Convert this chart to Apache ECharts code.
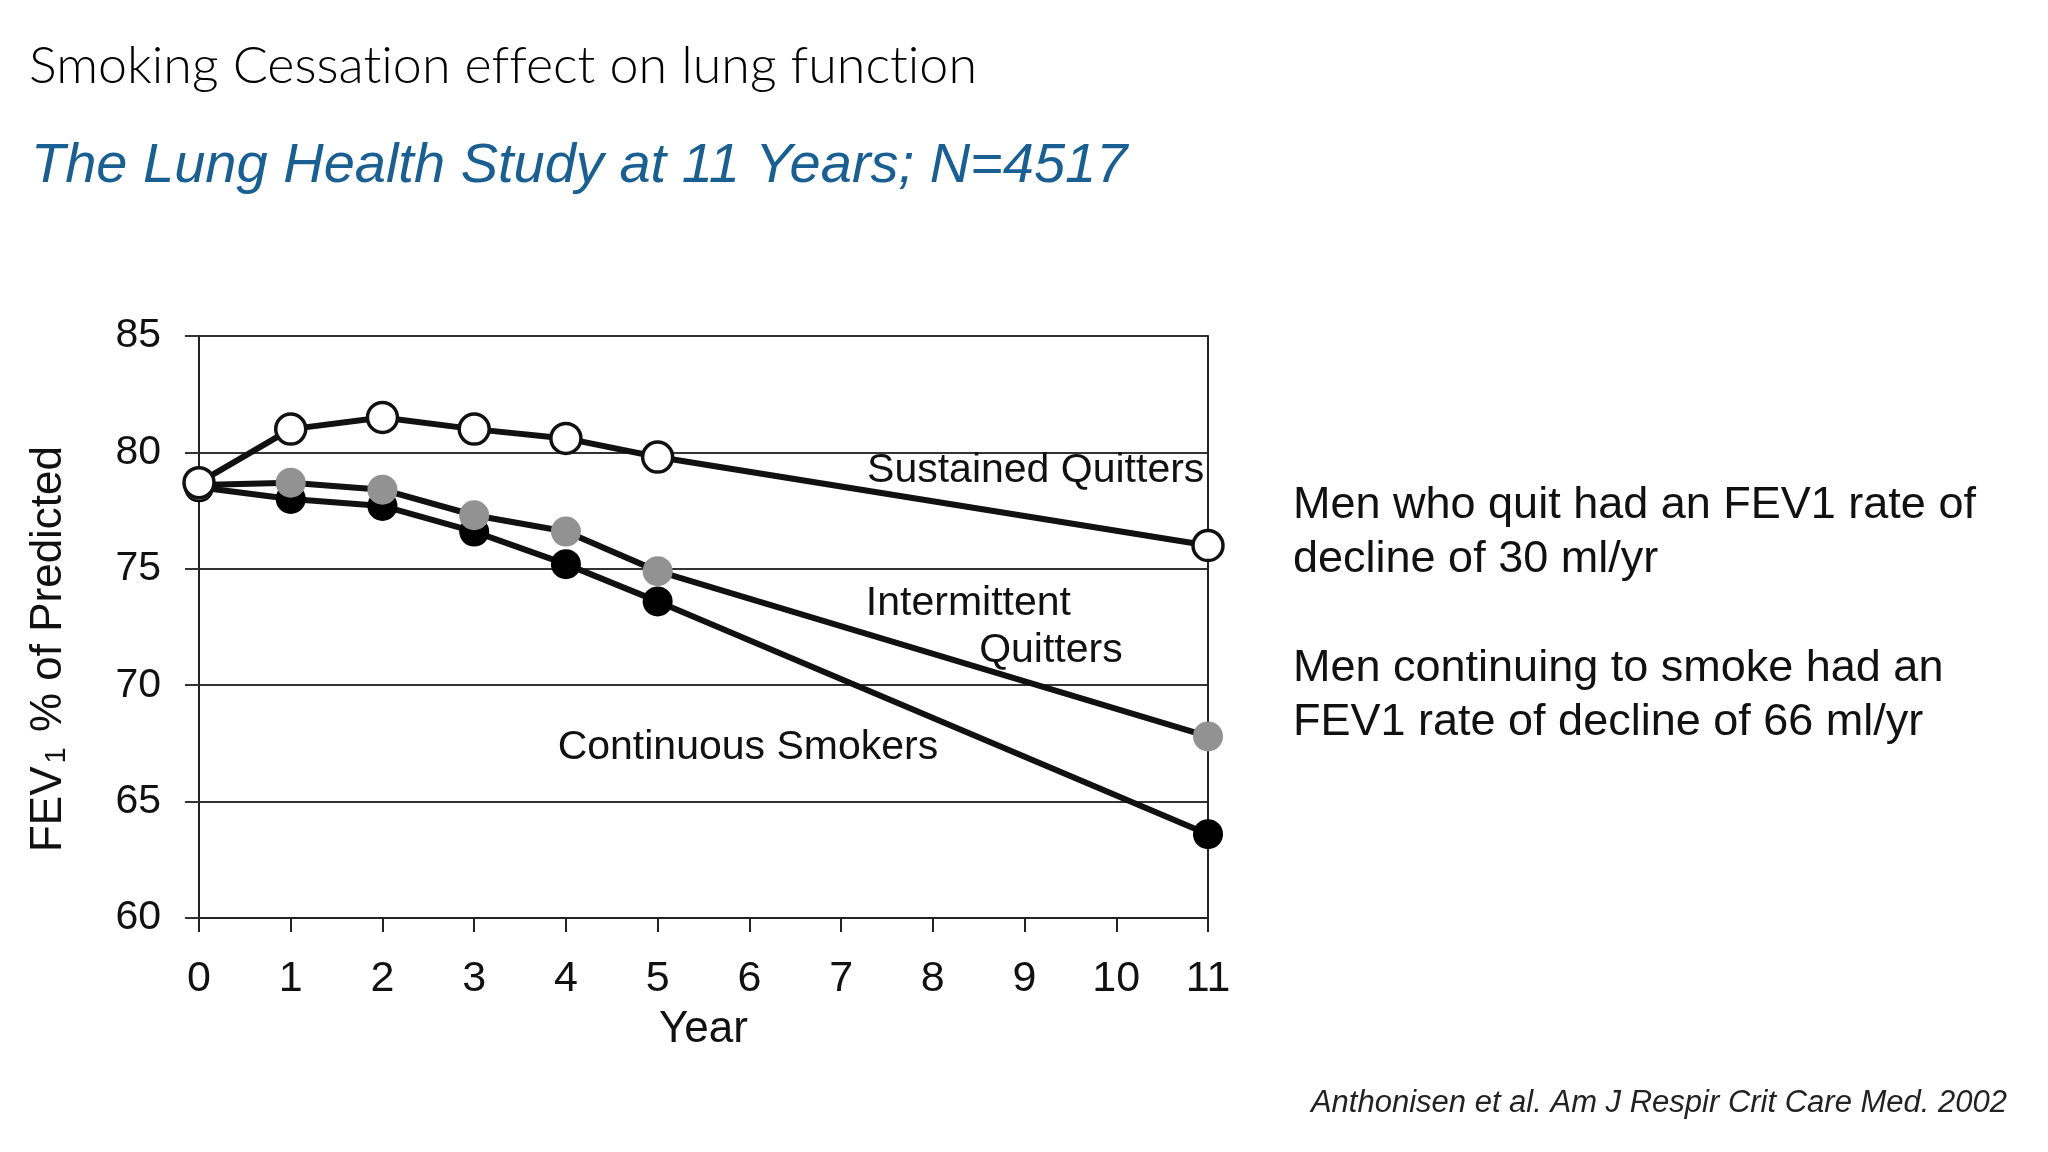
<!DOCTYPE html>
<html>
<head>
<meta charset="utf-8">
<script src="https://cdn.jsdelivr.net/npm/echarts@6/dist/echarts.min.js"></script>
<style>
  html, body { margin: 0; padding: 0; background: #fff; }
  #chart { width: 2048px; height: 1152px; }
</style>
</head>
<body>
<div id="chart"></div>
<script>
// years of follow-up
const years = [0, 1, 2, 3, 4, 5, 11]
// FEV1 % of predicted
const sustained = [78.7, 81.0, 81.5, 81.0, 80.6, 79.8, 76.0]
const intermittent = [78.6, 78.7, 78.4, 77.3, 76.6, 74.9, 67.8]
const continuous = [78.5, 78.0, 77.7, 76.6, 75.2, 73.6, 63.6]
const yTicks = [60, 65, 70, 75, 80, 85]

const pairs = vals => years.map((y, i) => [y, vals[i]])

const font = '"Liberation Sans", Arial, sans-serif'
const ink = '#111'

function lineSeries(name, vals, fill, notes) {
  return {
    name: name,
    type: 'line',
    data: pairs(vals),
    symbol: 'circle',
    symbolSize: 30,
    showAllSymbol: true,
    lineStyle: { width: 6, color: ink },
    itemStyle: { color: fill, borderColor: ink, borderWidth: fill === '#fff' ? 3.5 : 0 },
    animation: false,
    markPoint: {
      symbol: 'circle',
      symbolSize: 0,
      animation: false,
      data: notes.map(n => ({
        coord: n.at,
        label: {
          show: true,
          position: 'inside',
          formatter: n.text,
          align: n.align,
          verticalAlign: 'middle',
          fontSize: 41,
          fontFamily: font,
          color: ink
        }
      }))
    }
  }
}

// title drawn in separate runs so the font does not draw ligatures (ti, ff)
const titleRuns = ['Smoking Cessat', 'ion ef', 'fect on lung funct', 'ion']

const chart = echarts.init(document.getElementById('chart'))

chart.setOption({
  backgroundColor: '#fff',
  grid: { left: 199, right: 840, top: 336, bottom: 234 },
  xAxis: {
    type: 'value',
    min: 0,
    max: 11,
    interval: 1,
    name: 'Year',
    nameLocation: 'middle',
    nameGap: 90,
    nameTextStyle: { fontSize: 44, fontFamily: font, color: ink },
    axisLine: { lineStyle: { color: '#222', width: 2 } },
    axisTick: { show: true, length: 14, lineStyle: { color: '#222', width: 2 } },
    axisLabel: { fontSize: 43, fontFamily: font, color: ink, margin: 40 },
    splitLine: { show: false }
  },
  yAxis: [
    {
      type: 'value',
      min: yTicks[0],
      max: yTicks[yTicks.length - 1],
      interval: 5,
      name: '{a|FEV}{b|1}{a| % of Predicted}',
      nameLocation: 'middle',
      nameGap: 128,
      nameTextStyle: {
        padding: [0, 44, 0, 0],
        rich: {
          a: { fontSize: 44, fontFamily: font, color: ink, verticalAlign: 'top', lineHeight: 44 },
          b: { fontSize: 29, fontFamily: font, color: ink, verticalAlign: 'bottom', lineHeight: 29, padding: [24, 3, 0, 3] }
        }
      },
      axisLine: { show: true, lineStyle: { color: '#222', width: 2 } },
      axisTick: { show: true, length: 14, lineStyle: { color: '#333', width: 2 } },
      axisLabel: { fontSize: 41, fontFamily: font, color: ink, margin: 38 },
      splitLine: { show: true, lineStyle: { color: '#333', width: 2 } }
    },
    {
      type: 'value',
      min: yTicks[0],
      max: yTicks[yTicks.length - 1],
      position: 'right',
      axisLine: { show: true, lineStyle: { color: '#222', width: 2 } },
      axisTick: { show: false },
      axisLabel: { show: false },
      splitLine: { show: false }
    }
  ],
  series: [
    lineSeries('Continuous Smokers', continuous, '#000', [
      { text: 'Continuous Smokers', at: [3.91, 67.3], align: 'left' }
    ]),
    lineSeries('Intermittent Quitters', intermittent, '#929292', [
      { text: 'Intermittent', at: [7.27, 73.5], align: 'left' },
      { text: 'Quitters', at: [10.07, 71.5], align: 'right' }
    ]),
    lineSeries('Sustained Quitters', sustained, '#fff', [
      { text: 'Sustained Quitters', at: [10.96, 79.2], align: 'right' }
    ])
  ],
  graphic: [
    {
      type: 'text', left: 29, top: 40,
      style: {
        text: titleRuns.map(r => '{t|' + r + '}').join(''),
        rich: { t: { fontSize: 52, fontFamily: 'Lato, "Open Sans", sans-serif', fontWeight: 300, color: '#111' } }
      }
    },
    {
      type: 'text', left: 31, top: 138,
      style: { text: 'The Lung Health Study at 11 Years; N=4517', fontSize: 56, fontStyle: 'italic', fontFamily: font, fill: '#1a5f91' }
    },
    {
      type: 'text', left: 1293, top: 479,
      style: { text: 'Men who quit had an FEV1 rate of\ndecline of 30 ml/yr', fontSize: 45, lineHeight: 54, fontFamily: font, fill: ink }
    },
    {
      type: 'text', left: 1293, top: 642,
      style: { text: 'Men continuing to smoke had an\nFEV1 rate of decline of 66 ml/yr', fontSize: 45, lineHeight: 54, fontFamily: font, fill: ink }
    },
    {
      type: 'text', right: 41, top: 1088,
      style: { text: 'Anthonisen et al. Am J Respir Crit Care Med. 2002', fontSize: 31, fontStyle: 'italic', fontFamily: font, fill: '#222' }
    }
  ]
})
</script>
</body>
</html>
